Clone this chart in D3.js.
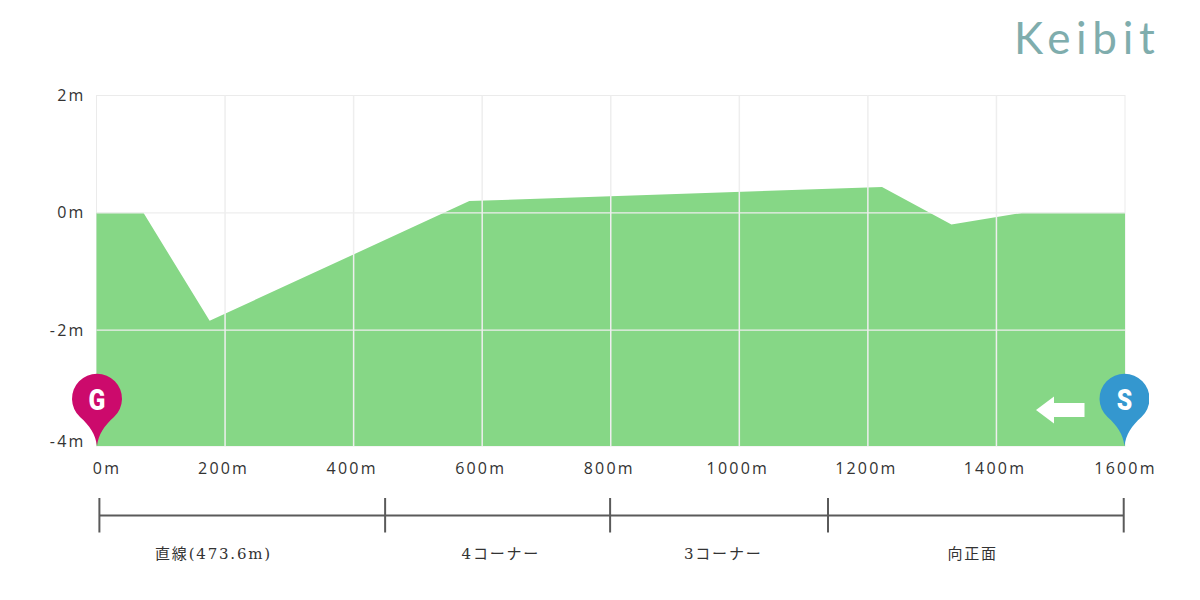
<!DOCTYPE html>
<html><head><meta charset="utf-8">
<script src="https://cdn.jsdelivr.net/npm/d3@7"></script>
<style>
html,body{margin:0;padding:0;background:#fff}
svg{display:block}
.tick-label{font-family:"Open Sans",sans-serif;font-size:16px;letter-spacing:2.2px;fill:#333}
.seg{font-family:"DejaVu Serif","Noto Sans CJK JP",serif;font-size:15px;letter-spacing:1.8px;fill:#333}
</style></head><body>
<svg id="c" width="1200" height="600"></svg>
<script>
const distances=[0,73,176,580,1222,1330,1441,1600];
const heights=[0,0,-1.84,0.2,0.44,-0.2,0,0];
const xTicks=[0,200,400,600,800,1000,1200,1400,1600];
const yTicks=[2,0,-2,-4];
const segBounds=[4.5,449,799,1138,1598];
const segNames=["直線(473.6m)","4コーナー","3コーナー","向正面"];
const segCenters=[182,629,975,1363];
const pinNames=["G","S"];
const pinAt=[0,1600];
const pinColors=["#cc0a6c","#3497cf"];

const svg=d3.select("#c");
const x=d3.scaleLinear().domain([0,1600]).range([96.5,1125]);
const y=d3.scaleLinear().domain([-4,2]).range([447.5,95.5]);
const base=446;

svg.append("rect").attr("x",x(0)).attr("y",y(2)).attr("width",x(1600)-x(0)).attr("height",base-y(2)).attr("fill","#fff").attr("stroke","#ebebeb");

const area=d3.area().x((d,i)=>x(distances[i])).y0(base).y1((d,i)=>y(heights[i]));
svg.append("path").datum(heights).attr("d",area).attr("fill","#86d786");

svg.append("g").selectAll("line").data(xTicks.slice(1,-1)).join("line")
 .attr("x1",d=>x(d)).attr("x2",d=>x(d)).attr("y1",y(2)).attr("y2",base)
 .attr("stroke","#eeeeee").attr("stroke-width",1.5);
svg.append("g").selectAll("line").data(yTicks.slice(1,-1)).join("line")
 .attr("x1",x(0)).attr("x2",x(1600)).attr("y1",d=>y(d)).attr("y2",d=>y(d))
 .attr("stroke","#eeeeee").attr("stroke-width",1.3);

const xa=svg.append("g").attr("transform",`translate(0,${base})`)
 .call(d3.axisBottom(x).tickValues(xTicks).tickSize(0).tickFormat(d=>d+"m"));
xa.select(".domain").remove();
xa.selectAll("text").attr("class","tick-label").attr("font-family",null).attr("font-size",null).attr("fill",null)
 .attr("y",28).attr("dy",null).attr("dx",d=>d===0?10:(d===1600?0:-2));
const ya=svg.append("g").attr("transform",`translate(${x(0)},0)`)
 .call(d3.axisLeft(y).tickValues(yTicks).tickSize(0).tickFormat(d=>d+"m"));
ya.select(".domain").remove();
ya.selectAll("text").attr("class","tick-label").attr("x",-11).attr("dy",null)
 .attr("y",d=>d===-4?-1:5);

pinNames.forEach((n,i)=>{
 const g=svg.append("g").attr("transform",`translate(${x(pinAt[i])+(i?-0.5:0.5)},${base})`);
 g.append("path").attr("fill",pinColors[i])
  .attr("d","M0,0 C-1.5,-12 -7,-20 -17,-29 A25,25 0 1 1 17,-29 C7,-20 1.5,-12 0,0 Z");
 g.append("text").text(n).attr("text-anchor","middle")
  .attr("transform","translate(0,-36) scale(0.95,1.12)")
  .attr("font-family","Roboto,sans-serif").attr("font-weight",900).attr("font-size",26)
  .attr("fill","#fff");
});
svg.append("rect").attr("x",1149).attr("y",370).attr("width",6).attr("height",60).attr("fill","#fff");

svg.append("path").attr("fill","#fff").attr("d","M1036,410 L1054,396.5 L1054,403 L1084.5,403 L1084.5,417 L1054,417 L1054,423.5 Z");

const sg=svg.append("g").attr("stroke","#5a5a5a").attr("stroke-width",2);
sg.append("line").attr("x1",x(segBounds[0])).attr("x2",x(segBounds[4])).attr("y1",515.5).attr("y2",515.5);
sg.selectAll(".b").data(segBounds).join("line").attr("class","b")
 .attr("x1",d=>x(d)).attr("x2",d=>x(d)).attr("y1",498).attr("y2",532.5);
svg.append("g").selectAll("text").data(segNames).join("text").attr("class","seg")
 .attr("x",(d,i)=>x(segCenters[i])).attr("y",559).attr("text-anchor","middle").text(d=>d);

svg.append("text").text("Keibit").attr("x",1014).attr("y",54)
 .attr("font-family","Lato,sans-serif").attr("font-weight",400).attr("font-size",44)
 .attr("letter-spacing",5.7).attr("fill","#7fadad");
</script></body></html>
